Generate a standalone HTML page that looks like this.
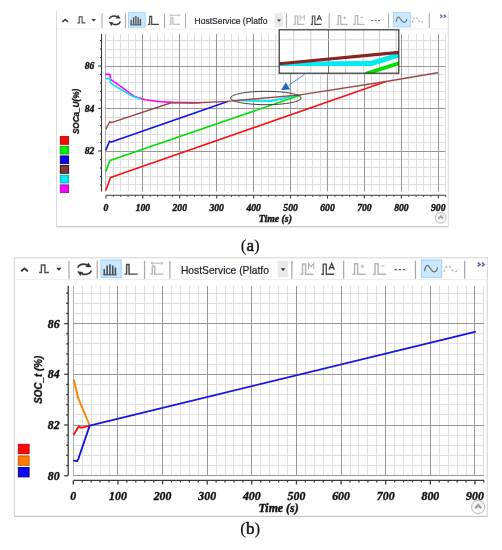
<!DOCTYPE html>
<html><head><meta charset="utf-8"><title>SOC charts</title>
<style>html,body{margin:0;padding:0;background:#fff;width:502px;height:550px;overflow:hidden}svg{display:block}</style>
</head><body>
<svg width="502" height="550" viewBox="0 0 502 550">
<rect width="502" height="550" fill="#ffffff"/>
<path d="M56.5,11 V226.6 H448.3 V11" fill="none" stroke="#dcdcdc" stroke-width="1"/>
<line x1="56.5" y1="226.8" x2="448.3" y2="226.8" stroke="#c4c4c4" stroke-width="1"/>
<line x1="57" y1="29" x2="448" y2="29" stroke="#f0f0f0" stroke-width="1"/>
<line x1="113.5" y1="34" x2="113.5" y2="191.5" stroke="#dfdfdf" stroke-width="1"/>
<line x1="120.5" y1="34" x2="120.5" y2="191.5" stroke="#dfdfdf" stroke-width="1"/>
<line x1="128.5" y1="34" x2="128.5" y2="191.5" stroke="#dfdfdf" stroke-width="1"/>
<line x1="135.5" y1="34" x2="135.5" y2="191.5" stroke="#dfdfdf" stroke-width="1"/>
<line x1="150.5" y1="34" x2="150.5" y2="191.5" stroke="#dfdfdf" stroke-width="1"/>
<line x1="157.5" y1="34" x2="157.5" y2="191.5" stroke="#dfdfdf" stroke-width="1"/>
<line x1="164.5" y1="34" x2="164.5" y2="191.5" stroke="#dfdfdf" stroke-width="1"/>
<line x1="172.5" y1="34" x2="172.5" y2="191.5" stroke="#dfdfdf" stroke-width="1"/>
<line x1="187.5" y1="34" x2="187.5" y2="191.5" stroke="#dfdfdf" stroke-width="1"/>
<line x1="194.5" y1="34" x2="194.5" y2="191.5" stroke="#dfdfdf" stroke-width="1"/>
<line x1="201.5" y1="34" x2="201.5" y2="191.5" stroke="#dfdfdf" stroke-width="1"/>
<line x1="209.5" y1="34" x2="209.5" y2="191.5" stroke="#dfdfdf" stroke-width="1"/>
<line x1="224.5" y1="34" x2="224.5" y2="191.5" stroke="#dfdfdf" stroke-width="1"/>
<line x1="231.5" y1="34" x2="231.5" y2="191.5" stroke="#dfdfdf" stroke-width="1"/>
<line x1="238.5" y1="34" x2="238.5" y2="191.5" stroke="#dfdfdf" stroke-width="1"/>
<line x1="246.5" y1="34" x2="246.5" y2="191.5" stroke="#dfdfdf" stroke-width="1"/>
<line x1="261.5" y1="34" x2="261.5" y2="191.5" stroke="#dfdfdf" stroke-width="1"/>
<line x1="268.5" y1="34" x2="268.5" y2="191.5" stroke="#dfdfdf" stroke-width="1"/>
<line x1="275.5" y1="34" x2="275.5" y2="191.5" stroke="#dfdfdf" stroke-width="1"/>
<line x1="283.5" y1="34" x2="283.5" y2="191.5" stroke="#dfdfdf" stroke-width="1"/>
<line x1="297.5" y1="34" x2="297.5" y2="191.5" stroke="#dfdfdf" stroke-width="1"/>
<line x1="305.5" y1="34" x2="305.5" y2="191.5" stroke="#dfdfdf" stroke-width="1"/>
<line x1="312.5" y1="34" x2="312.5" y2="191.5" stroke="#dfdfdf" stroke-width="1"/>
<line x1="320.5" y1="34" x2="320.5" y2="191.5" stroke="#dfdfdf" stroke-width="1"/>
<line x1="334.5" y1="34" x2="334.5" y2="191.5" stroke="#dfdfdf" stroke-width="1"/>
<line x1="342.5" y1="34" x2="342.5" y2="191.5" stroke="#dfdfdf" stroke-width="1"/>
<line x1="349.5" y1="34" x2="349.5" y2="191.5" stroke="#dfdfdf" stroke-width="1"/>
<line x1="357.5" y1="34" x2="357.5" y2="191.5" stroke="#dfdfdf" stroke-width="1"/>
<line x1="371.5" y1="34" x2="371.5" y2="191.5" stroke="#dfdfdf" stroke-width="1"/>
<line x1="379.5" y1="34" x2="379.5" y2="191.5" stroke="#dfdfdf" stroke-width="1"/>
<line x1="386.5" y1="34" x2="386.5" y2="191.5" stroke="#dfdfdf" stroke-width="1"/>
<line x1="393.5" y1="34" x2="393.5" y2="191.5" stroke="#dfdfdf" stroke-width="1"/>
<line x1="408.5" y1="34" x2="408.5" y2="191.5" stroke="#dfdfdf" stroke-width="1"/>
<line x1="416.5" y1="34" x2="416.5" y2="191.5" stroke="#dfdfdf" stroke-width="1"/>
<line x1="423.5" y1="34" x2="423.5" y2="191.5" stroke="#dfdfdf" stroke-width="1"/>
<line x1="430.5" y1="34" x2="430.5" y2="191.5" stroke="#dfdfdf" stroke-width="1"/>
<line x1="445.5" y1="34" x2="445.5" y2="191.5" stroke="#dfdfdf" stroke-width="1"/>
<line x1="105.9" y1="184.5" x2="445.6" y2="184.5" stroke="#dfdfdf" stroke-width="1"/>
<line x1="105.9" y1="176.5" x2="445.6" y2="176.5" stroke="#dfdfdf" stroke-width="1"/>
<line x1="105.9" y1="167.5" x2="445.6" y2="167.5" stroke="#dfdfdf" stroke-width="1"/>
<line x1="105.9" y1="159.5" x2="445.6" y2="159.5" stroke="#dfdfdf" stroke-width="1"/>
<line x1="105.9" y1="142.5" x2="445.6" y2="142.5" stroke="#dfdfdf" stroke-width="1"/>
<line x1="105.9" y1="134.5" x2="445.6" y2="134.5" stroke="#dfdfdf" stroke-width="1"/>
<line x1="105.9" y1="125.5" x2="445.6" y2="125.5" stroke="#dfdfdf" stroke-width="1"/>
<line x1="105.9" y1="117.5" x2="445.6" y2="117.5" stroke="#dfdfdf" stroke-width="1"/>
<line x1="105.9" y1="99.5" x2="445.6" y2="99.5" stroke="#dfdfdf" stroke-width="1"/>
<line x1="105.9" y1="91.5" x2="445.6" y2="91.5" stroke="#dfdfdf" stroke-width="1"/>
<line x1="105.9" y1="82.5" x2="445.6" y2="82.5" stroke="#dfdfdf" stroke-width="1"/>
<line x1="105.9" y1="74.5" x2="445.6" y2="74.5" stroke="#dfdfdf" stroke-width="1"/>
<line x1="105.9" y1="57.5" x2="445.6" y2="57.5" stroke="#dfdfdf" stroke-width="1"/>
<line x1="105.9" y1="49.5" x2="445.6" y2="49.5" stroke="#dfdfdf" stroke-width="1"/>
<line x1="105.9" y1="40.5" x2="445.6" y2="40.5" stroke="#dfdfdf" stroke-width="1"/>
<line x1="105.5" y1="34" x2="105.5" y2="191.5" stroke="#b4b4b4" stroke-width="1"/>
<line x1="142.5" y1="34" x2="142.5" y2="191.5" stroke="#979797" stroke-width="1"/>
<line x1="179.5" y1="34" x2="179.5" y2="191.5" stroke="#979797" stroke-width="1"/>
<line x1="216.5" y1="34" x2="216.5" y2="191.5" stroke="#979797" stroke-width="1"/>
<line x1="253.5" y1="34" x2="253.5" y2="191.5" stroke="#979797" stroke-width="1"/>
<line x1="290.5" y1="34" x2="290.5" y2="191.5" stroke="#979797" stroke-width="1"/>
<line x1="327.5" y1="34" x2="327.5" y2="191.5" stroke="#979797" stroke-width="1"/>
<line x1="364.5" y1="34" x2="364.5" y2="191.5" stroke="#979797" stroke-width="1"/>
<line x1="401.5" y1="34" x2="401.5" y2="191.5" stroke="#979797" stroke-width="1"/>
<line x1="438.5" y1="34" x2="438.5" y2="191.5" stroke="#979797" stroke-width="1"/>
<line x1="105.9" y1="151.5" x2="445.6" y2="151.5" stroke="#979797" stroke-width="1"/>
<line x1="105.9" y1="108.5" x2="445.6" y2="108.5" stroke="#979797" stroke-width="1"/>
<line x1="105.9" y1="66.5" x2="445.6" y2="66.5" stroke="#979797" stroke-width="1"/>
<line x1="101.5" y1="34" x2="101.5" y2="191.5" stroke="#3a3a3a" stroke-width="1.1"/>
<line x1="99.9" y1="185" x2="101.5" y2="185" stroke="#3a3a3a" stroke-width="1.1"/>
<line x1="99.9" y1="176.5" x2="101.5" y2="176.5" stroke="#3a3a3a" stroke-width="1.1"/>
<line x1="99.9" y1="168" x2="101.5" y2="168" stroke="#3a3a3a" stroke-width="1.1"/>
<line x1="99.9" y1="159.5" x2="101.5" y2="159.5" stroke="#3a3a3a" stroke-width="1.1"/>
<line x1="98.1" y1="151" x2="101.5" y2="151" stroke="#3a3a3a" stroke-width="1.1"/>
<line x1="99.9" y1="142.5" x2="101.5" y2="142.5" stroke="#3a3a3a" stroke-width="1.1"/>
<line x1="99.9" y1="134" x2="101.5" y2="134" stroke="#3a3a3a" stroke-width="1.1"/>
<line x1="99.9" y1="125.5" x2="101.5" y2="125.5" stroke="#3a3a3a" stroke-width="1.1"/>
<line x1="99.9" y1="117" x2="101.5" y2="117" stroke="#3a3a3a" stroke-width="1.1"/>
<line x1="98.1" y1="108.5" x2="101.5" y2="108.5" stroke="#3a3a3a" stroke-width="1.1"/>
<line x1="99.9" y1="100" x2="101.5" y2="100" stroke="#3a3a3a" stroke-width="1.1"/>
<line x1="99.9" y1="91.5" x2="101.5" y2="91.5" stroke="#3a3a3a" stroke-width="1.1"/>
<line x1="99.9" y1="83" x2="101.5" y2="83" stroke="#3a3a3a" stroke-width="1.1"/>
<line x1="99.9" y1="74.5" x2="101.5" y2="74.5" stroke="#3a3a3a" stroke-width="1.1"/>
<line x1="98.1" y1="66" x2="101.5" y2="66" stroke="#3a3a3a" stroke-width="1.1"/>
<line x1="99.9" y1="57.5" x2="101.5" y2="57.5" stroke="#3a3a3a" stroke-width="1.1"/>
<line x1="99.9" y1="49" x2="101.5" y2="49" stroke="#3a3a3a" stroke-width="1.1"/>
<line x1="99.9" y1="40.5" x2="101.5" y2="40.5" stroke="#3a3a3a" stroke-width="1.1"/>
<line x1="105.9" y1="195.2" x2="445.5" y2="195.2" stroke="#3a3a3a" stroke-width="1.1"/>
<line x1="105.9" y1="195.2" x2="105.9" y2="198.6" stroke="#3a3a3a" stroke-width="1.1"/>
<line x1="113.29" y1="195.2" x2="113.29" y2="196.8" stroke="#3a3a3a" stroke-width="1.1"/>
<line x1="120.67" y1="195.2" x2="120.67" y2="196.8" stroke="#3a3a3a" stroke-width="1.1"/>
<line x1="128.06" y1="195.2" x2="128.06" y2="196.8" stroke="#3a3a3a" stroke-width="1.1"/>
<line x1="135.44" y1="195.2" x2="135.44" y2="196.8" stroke="#3a3a3a" stroke-width="1.1"/>
<line x1="142.83" y1="195.2" x2="142.83" y2="198.6" stroke="#3a3a3a" stroke-width="1.1"/>
<line x1="150.22" y1="195.2" x2="150.22" y2="196.8" stroke="#3a3a3a" stroke-width="1.1"/>
<line x1="157.6" y1="195.2" x2="157.6" y2="196.8" stroke="#3a3a3a" stroke-width="1.1"/>
<line x1="164.99" y1="195.2" x2="164.99" y2="196.8" stroke="#3a3a3a" stroke-width="1.1"/>
<line x1="172.37" y1="195.2" x2="172.37" y2="196.8" stroke="#3a3a3a" stroke-width="1.1"/>
<line x1="179.76" y1="195.2" x2="179.76" y2="198.6" stroke="#3a3a3a" stroke-width="1.1"/>
<line x1="187.15" y1="195.2" x2="187.15" y2="196.8" stroke="#3a3a3a" stroke-width="1.1"/>
<line x1="194.53" y1="195.2" x2="194.53" y2="196.8" stroke="#3a3a3a" stroke-width="1.1"/>
<line x1="201.92" y1="195.2" x2="201.92" y2="196.8" stroke="#3a3a3a" stroke-width="1.1"/>
<line x1="209.3" y1="195.2" x2="209.3" y2="196.8" stroke="#3a3a3a" stroke-width="1.1"/>
<line x1="216.69" y1="195.2" x2="216.69" y2="198.6" stroke="#3a3a3a" stroke-width="1.1"/>
<line x1="224.08" y1="195.2" x2="224.08" y2="196.8" stroke="#3a3a3a" stroke-width="1.1"/>
<line x1="231.46" y1="195.2" x2="231.46" y2="196.8" stroke="#3a3a3a" stroke-width="1.1"/>
<line x1="238.85" y1="195.2" x2="238.85" y2="196.8" stroke="#3a3a3a" stroke-width="1.1"/>
<line x1="246.23" y1="195.2" x2="246.23" y2="196.8" stroke="#3a3a3a" stroke-width="1.1"/>
<line x1="253.62" y1="195.2" x2="253.62" y2="198.6" stroke="#3a3a3a" stroke-width="1.1"/>
<line x1="261.01" y1="195.2" x2="261.01" y2="196.8" stroke="#3a3a3a" stroke-width="1.1"/>
<line x1="268.39" y1="195.2" x2="268.39" y2="196.8" stroke="#3a3a3a" stroke-width="1.1"/>
<line x1="275.78" y1="195.2" x2="275.78" y2="196.8" stroke="#3a3a3a" stroke-width="1.1"/>
<line x1="283.16" y1="195.2" x2="283.16" y2="196.8" stroke="#3a3a3a" stroke-width="1.1"/>
<line x1="290.55" y1="195.2" x2="290.55" y2="198.6" stroke="#3a3a3a" stroke-width="1.1"/>
<line x1="297.94" y1="195.2" x2="297.94" y2="196.8" stroke="#3a3a3a" stroke-width="1.1"/>
<line x1="305.32" y1="195.2" x2="305.32" y2="196.8" stroke="#3a3a3a" stroke-width="1.1"/>
<line x1="312.71" y1="195.2" x2="312.71" y2="196.8" stroke="#3a3a3a" stroke-width="1.1"/>
<line x1="320.09" y1="195.2" x2="320.09" y2="196.8" stroke="#3a3a3a" stroke-width="1.1"/>
<line x1="327.48" y1="195.2" x2="327.48" y2="198.6" stroke="#3a3a3a" stroke-width="1.1"/>
<line x1="334.87" y1="195.2" x2="334.87" y2="196.8" stroke="#3a3a3a" stroke-width="1.1"/>
<line x1="342.25" y1="195.2" x2="342.25" y2="196.8" stroke="#3a3a3a" stroke-width="1.1"/>
<line x1="349.64" y1="195.2" x2="349.64" y2="196.8" stroke="#3a3a3a" stroke-width="1.1"/>
<line x1="357.02" y1="195.2" x2="357.02" y2="196.8" stroke="#3a3a3a" stroke-width="1.1"/>
<line x1="364.41" y1="195.2" x2="364.41" y2="198.6" stroke="#3a3a3a" stroke-width="1.1"/>
<line x1="371.8" y1="195.2" x2="371.8" y2="196.8" stroke="#3a3a3a" stroke-width="1.1"/>
<line x1="379.18" y1="195.2" x2="379.18" y2="196.8" stroke="#3a3a3a" stroke-width="1.1"/>
<line x1="386.57" y1="195.2" x2="386.57" y2="196.8" stroke="#3a3a3a" stroke-width="1.1"/>
<line x1="393.95" y1="195.2" x2="393.95" y2="196.8" stroke="#3a3a3a" stroke-width="1.1"/>
<line x1="401.34" y1="195.2" x2="401.34" y2="198.6" stroke="#3a3a3a" stroke-width="1.1"/>
<line x1="408.73" y1="195.2" x2="408.73" y2="196.8" stroke="#3a3a3a" stroke-width="1.1"/>
<line x1="416.11" y1="195.2" x2="416.11" y2="196.8" stroke="#3a3a3a" stroke-width="1.1"/>
<line x1="423.5" y1="195.2" x2="423.5" y2="196.8" stroke="#3a3a3a" stroke-width="1.1"/>
<line x1="430.88" y1="195.2" x2="430.88" y2="196.8" stroke="#3a3a3a" stroke-width="1.1"/>
<line x1="438.27" y1="195.2" x2="438.27" y2="198.6" stroke="#3a3a3a" stroke-width="1.1"/>
<line x1="445.66" y1="195.2" x2="445.66" y2="196.8" stroke="#3a3a3a" stroke-width="1.1"/>
<text x="105.9" y="211" text-anchor="middle" style="font-family:'Liberation Serif',serif;font-weight:bold;font-style:italic;stroke:#111;stroke-width:0.4px;font-size:9.6px" fill="#111">0</text>
<text x="142.83" y="211" text-anchor="middle" style="font-family:'Liberation Serif',serif;font-weight:bold;font-style:italic;stroke:#111;stroke-width:0.4px;font-size:9.6px" fill="#111">100</text>
<text x="179.76" y="211" text-anchor="middle" style="font-family:'Liberation Serif',serif;font-weight:bold;font-style:italic;stroke:#111;stroke-width:0.4px;font-size:9.6px" fill="#111">200</text>
<text x="216.69" y="211" text-anchor="middle" style="font-family:'Liberation Serif',serif;font-weight:bold;font-style:italic;stroke:#111;stroke-width:0.4px;font-size:9.6px" fill="#111">300</text>
<text x="253.62" y="211" text-anchor="middle" style="font-family:'Liberation Serif',serif;font-weight:bold;font-style:italic;stroke:#111;stroke-width:0.4px;font-size:9.6px" fill="#111">400</text>
<text x="290.55" y="211" text-anchor="middle" style="font-family:'Liberation Serif',serif;font-weight:bold;font-style:italic;stroke:#111;stroke-width:0.4px;font-size:9.6px" fill="#111">500</text>
<text x="327.48" y="211" text-anchor="middle" style="font-family:'Liberation Serif',serif;font-weight:bold;font-style:italic;stroke:#111;stroke-width:0.4px;font-size:9.6px" fill="#111">600</text>
<text x="364.41" y="211" text-anchor="middle" style="font-family:'Liberation Serif',serif;font-weight:bold;font-style:italic;stroke:#111;stroke-width:0.4px;font-size:9.6px" fill="#111">700</text>
<text x="401.34" y="211" text-anchor="middle" style="font-family:'Liberation Serif',serif;font-weight:bold;font-style:italic;stroke:#111;stroke-width:0.4px;font-size:9.6px" fill="#111">800</text>
<text x="438.27" y="211" text-anchor="middle" style="font-family:'Liberation Serif',serif;font-weight:bold;font-style:italic;stroke:#111;stroke-width:0.4px;font-size:9.6px" fill="#111">900</text>
<text x="94.4" y="154.3" text-anchor="end" style="font-family:'Liberation Serif',serif;font-weight:bold;font-style:italic;stroke:#111;stroke-width:0.4px;font-size:9.6px" fill="#111">82</text>
<text x="94.4" y="111.8" text-anchor="end" style="font-family:'Liberation Serif',serif;font-weight:bold;font-style:italic;stroke:#111;stroke-width:0.4px;font-size:9.6px" fill="#111">84</text>
<text x="94.4" y="69.3" text-anchor="end" style="font-family:'Liberation Serif',serif;font-weight:bold;font-style:italic;stroke:#111;stroke-width:0.4px;font-size:9.6px" fill="#111">86</text>
<text x="275.4" y="222" text-anchor="middle" style="font-family:'Liberation Serif',serif;font-weight:bold;font-style:italic;stroke:#111;stroke-width:0.4px;font-size:9.8px" fill="#111">Time (s)</text>
<text transform="translate(79.4,111.5) rotate(-90)" x="0" y="0" text-anchor="middle" style="font-family:'Liberation Sans',sans-serif;font-weight:bold;font-style:italic;font-size:8.6px;stroke:#111;stroke-width:0.3px" fill="#111" textLength="45.2" lengthAdjust="spacingAndGlyphs">SOCa_U(%)</text>
<polyline points="106,74.4 110,74.4 110.6,79.3 120,85.9 134.5,96.6 145,99.7 158,101.5 172,102.4 200,102.8" fill="none" stroke="#ff00ff" stroke-width="1.6" stroke-linejoin="round" stroke-linecap="round"/>
<polyline points="106,78.5 110,78.5 110.6,82.9 120,89 133,96.6 140,98.8" fill="none" stroke="#00e8f0" stroke-width="1.6" stroke-linejoin="round" stroke-linecap="round"/>
<polyline points="238.5,100.4 250,100.8 271.2,101 295.1,95.6 300,94.9" fill="none" stroke="#00e8f0" stroke-width="1.9" stroke-linejoin="round" stroke-linecap="round"/>
<polyline points="106,189.9 110.5,177.6 386,81.6" fill="none" stroke="#ff1010" stroke-width="1.6" stroke-linejoin="round" stroke-linecap="round"/>
<polyline points="106,171 109.9,160.6 300,95.2" fill="none" stroke="#00e000" stroke-width="1.6" stroke-linejoin="round" stroke-linecap="round"/>
<polyline points="106,149.9 109.5,141.2 111.3,141.9 227.6,101.4" fill="none" stroke="#1010f0" stroke-width="1.6" stroke-linejoin="round" stroke-linecap="round"/>
<polyline points="106,128.8 109.9,121.5 111.3,122.6 171.9,102.5 192,103 227.6,101.4 300,94.9 386,81.5 437.5,72.7" fill="none" stroke="#9a4848" stroke-width="1.45" stroke-linejoin="round" stroke-linecap="round"/>
<rect x="60.3" y="136.6" width="8.3" height="7.7" fill="#ff0505" stroke="#c00000" stroke-width="0.9"/>
<rect x="60.3" y="146.26" width="8.3" height="7.7" fill="#05ee05" stroke="#00a800" stroke-width="0.9"/>
<rect x="60.3" y="155.92" width="8.3" height="7.7" fill="#0808f0" stroke="#000090" stroke-width="0.9"/>
<rect x="60.3" y="165.58" width="8.3" height="7.7" fill="#7a3b3b" stroke="#2a0a0a" stroke-width="0.9"/>
<rect x="60.3" y="175.24" width="8.3" height="7.7" fill="#08e8f0" stroke="#00a8b8" stroke-width="0.9"/>
<rect x="60.3" y="184.9" width="8.3" height="7.7" fill="#f808f8" stroke="#b000b0" stroke-width="0.9"/>
<circle cx="440.8" cy="217.8" r="5.3" fill="#fafafa" stroke="#b8b8b8" stroke-width="1"/>
<path d="M438.42,218.75 L440.8,216.21 L443.19,218.75" fill="none" stroke="#a0a0a0" stroke-width="1.91"/>
<defs><clipPath id="ins"><rect x="279.2" y="29.8" width="119.6" height="43.4"/></clipPath></defs>
<rect x="279.2" y="29.8" width="119.6" height="43.4" fill="#ffffff"/>
<g clip-path="url(#ins)">
<line x1="293.7" y1="30" x2="293.7" y2="73.2" stroke="#cfcfcf" stroke-width="1"/>
<line x1="310.9" y1="30" x2="310.9" y2="73.2" stroke="#cfcfcf" stroke-width="1"/>
<line x1="345.5" y1="30" x2="345.5" y2="73.2" stroke="#cfcfcf" stroke-width="1"/>
<line x1="363.7" y1="30" x2="363.7" y2="73.2" stroke="#cfcfcf" stroke-width="1"/>
<line x1="379.5" y1="30" x2="379.5" y2="73.2" stroke="#cfcfcf" stroke-width="1"/>
<line x1="396.2" y1="30" x2="396.2" y2="73.2" stroke="#cfcfcf" stroke-width="1"/>
<line x1="328.5" y1="30" x2="328.5" y2="73.2" stroke="#7a7a7a" stroke-width="1"/>
<line x1="279.5" y1="39.8" x2="399" y2="39.8" stroke="#d4d4d4" stroke-width="1"/>
<polygon points="279.5,63.2 330,61.2 370.2,61 399,52.6 399,57.4 372,65.9 279.5,65.9" fill="#00eaf2"/>
<line x1="365.6" y1="73.8" x2="399" y2="63.2" stroke="#00e000" stroke-width="3.8"/>
<line x1="279.5" y1="63.8" x2="399" y2="52.4" stroke="#8b2222" stroke-width="3.1"/>
</g>
<rect x="279.2" y="29.8" width="119.6" height="43.4" fill="none" stroke="#222" stroke-width="1.1"/>
<ellipse cx="265.9" cy="98" rx="35.3" ry="6.7" fill="none" stroke="#444" stroke-width="1"/>
<line x1="305.7" y1="73.4" x2="288.5" y2="85.6" stroke="#4a8ad8" stroke-width="1"/>
<path d="M281,90 L290.2,89.6 L285.8,82.6 Z" fill="#1f66c8"/>
<path d="M62.4,21.9 L65.2,19.5 L68,21.9" fill="none" stroke="#333333" stroke-width="1.5"/>
<path d="M77.3,22.9 H79.2 V16.8 H82.1 V22.9 H85.4" fill="none" stroke="#505050" stroke-width="1.15"/>
<path d="M91.4,19.1 H95.9 L93.65,21.6 Z" fill="#333333"/>
<line x1="102" y1="13.2" x2="102" y2="28.2" stroke="#a6a6a6" stroke-width="1"/>
<line x1="125.4" y1="13.2" x2="125.4" y2="28.2" stroke="#a6a6a6" stroke-width="1"/>
<line x1="164.5" y1="13.2" x2="164.5" y2="28.2" stroke="#a6a6a6" stroke-width="1"/>
<line x1="185.5" y1="13.2" x2="185.5" y2="28.2" stroke="#a6a6a6" stroke-width="1"/>
<line x1="286.4" y1="13.2" x2="286.4" y2="28.2" stroke="#a6a6a6" stroke-width="1"/>
<line x1="329.2" y1="13.2" x2="329.2" y2="28.2" stroke="#a6a6a6" stroke-width="1"/>
<line x1="388.6" y1="13.2" x2="388.6" y2="28.2" stroke="#a6a6a6" stroke-width="1"/>
<line x1="429.3" y1="13.2" x2="429.3" y2="28.2" stroke="#a6a6a6" stroke-width="1"/>
<path d="M109.3,18.9 C110,16.2 114,15.2 116.9,16.6" fill="none" stroke="#333333" stroke-width="1.4"/>
<path d="M118,14.7 L115.7,18.5 L120.6,18.6 Z" fill="#333333"/>
<path d="M120.4,21.4 C119.8,24.2 115.6,25.2 112.8,24.1" fill="none" stroke="#333333" stroke-width="1.4"/>
<path d="M111.4,25.9 L108.9,21.9 L113.7,22.6 Z" fill="#333333"/>
<rect x="128.4" y="12.6" width="16.8" height="14.6" fill="#cce8ff" stroke="#99d1ff" stroke-width="0.8"/>
<line x1="131.2" y1="20.1" x2="131.2" y2="24.8" stroke="#4a4a4a" stroke-width="1.3"/>
<line x1="133.6" y1="17.2" x2="133.6" y2="24.8" stroke="#4a4a4a" stroke-width="1.3"/>
<line x1="135.9" y1="16.1" x2="135.9" y2="24.8" stroke="#4a4a4a" stroke-width="1.3"/>
<line x1="138.2" y1="17.2" x2="138.2" y2="24.8" stroke="#4a4a4a" stroke-width="1.3"/>
<line x1="140.4" y1="18.9" x2="140.4" y2="24.8" stroke="#4a4a4a" stroke-width="1.3"/>
<line x1="130.4" y1="24.9" x2="141.4" y2="24.9" stroke="#404040" stroke-width="0.9"/>
<path d="M147.9,24.3 H149.7 V16.3 H151.7 V24.3 H158.9" fill="none" stroke="#454545" stroke-width="1.2"/>
<path d="M169.4,24.3 H170.9 V17.8 H172.9 V24.3 H180" fill="none" stroke="#b4b4b4" stroke-width="1.1"/>
<path d="M170,15.3 H179.6 M171.4,14.2 L169.9,15.3 L171.4,16.4 M178.2,14.2 L179.7,15.3 L178.2,16.4" fill="none" stroke="#b4b4b4" stroke-width="0.8"/>
<text x="194.6" y="24.2" style="font-family:'Liberation Sans',sans-serif;font-size:9.5px;stroke:#1a1a2a;stroke-width:0.18px" fill="#1a1a2a" textLength="72.8" lengthAdjust="spacingAndGlyphs">HostService (Platfo</text>
<rect x="274.6" y="13.2" width="8.7" height="13.6" fill="#e9e9e9"/>
<path d="M277.1,19.5 H281 L279.05,21.7 Z" fill="#333333"/>
<path d="M293.4,24.4 H295.2 V16 H297.7 V24.4 H304.3" fill="none" stroke="#b4b4b4" stroke-width="1.2"/>
<path d="M300.2,20.3 V15.4 L302.3,18.3 L304.4,15.4 V20.3" fill="none" stroke="#b4b4b4" stroke-width="0.9"/>
<path d="M310.8,24.4 H312.3 V16 H314.8 V24.4 H321.3" fill="none" stroke="#484848" stroke-width="1.1"/>
<path d="M317.1,20.6 L319.3,15.3 L321.5,20.6 M318,18.9 H320.6" fill="none" stroke="#333333" stroke-width="1"/>
<path d="M336.4,24.4 H338.3 V15.7 H340.8 V24.4 H347.5" fill="none" stroke="#b4b4b4" stroke-width="1.2"/>
<path d="M343.2,17.8 H346 M344.6,16.4 V19.2" stroke="#b4b4b4" stroke-width="0.9"/>
<path d="M353.3,24.4 H355.2 V15.7 H357.7 V24.4 H364.4" fill="none" stroke="#b4b4b4" stroke-width="1.2"/>
<path d="M360.6,17.5 H363" stroke="#b4b4b4" stroke-width="0.9"/>
<path d="M371.2,20.6 H373.3 M374.6,20.6 H376.7 M378,20.6 H380.1" stroke="#5c6074" stroke-width="1.0"/>
<rect x="393.5" y="12.6" width="16.8" height="14.4" fill="#cce8ff" stroke="#99d1ff" stroke-width="0.8"/>
<path d="M396,21.8 C397,17 398.2,16.6 399.2,17.4 C400.6,18.6 402,22.6 404.2,22.5 C405.6,22.4 406.5,20.5 406.9,18.8" fill="none" stroke="#687078" stroke-width="1.05"/>
<path d="M412.1,22.5 C413.2,18 415,17.2 416.2,17.6 C417.8,18.4 419.4,22.6 421,22.5 C422.4,22.4 423.3,21 423.9,19.6" fill="none" stroke="#b4b4b4" stroke-width="1.1" stroke-dasharray="2,1.6"/>
<path d="M440.1,14.8 L442.1,16.35 L440.1,17.9 M443.5,14.8 L445.5,16.35 L443.5,17.9" fill="none" stroke="#5a5ab4" stroke-width="1.2"/>
<text x="250.2" y="251" text-anchor="middle" style="font-family:'Liberation Serif',serif;font-size:17px;stroke:#111;stroke-width:0.15px" fill="#111">(<tspan style="stroke-width:0.55px">a</tspan>)</text>
<rect x="14.3" y="257.8" width="473" height="258.6" fill="none" stroke="#d4d4d4" stroke-width="1"/>
<line x1="14.3" y1="516.4" x2="487.3" y2="516.4" stroke="#c4c4c4" stroke-width="1"/>
<line x1="14.8" y1="279.5" x2="487" y2="279.5" stroke="#eceef2" stroke-width="1"/>
<line x1="82.5" y1="285.8" x2="82.5" y2="475.5" stroke="#dfdfdf" stroke-width="1"/>
<line x1="91.5" y1="285.8" x2="91.5" y2="475.5" stroke="#dfdfdf" stroke-width="1"/>
<line x1="100.5" y1="285.8" x2="100.5" y2="475.5" stroke="#dfdfdf" stroke-width="1"/>
<line x1="109.5" y1="285.8" x2="109.5" y2="475.5" stroke="#dfdfdf" stroke-width="1"/>
<line x1="126.5" y1="285.8" x2="126.5" y2="475.5" stroke="#dfdfdf" stroke-width="1"/>
<line x1="135.5" y1="285.8" x2="135.5" y2="475.5" stroke="#dfdfdf" stroke-width="1"/>
<line x1="144.5" y1="285.8" x2="144.5" y2="475.5" stroke="#dfdfdf" stroke-width="1"/>
<line x1="153.5" y1="285.8" x2="153.5" y2="475.5" stroke="#dfdfdf" stroke-width="1"/>
<line x1="171.5" y1="285.8" x2="171.5" y2="475.5" stroke="#dfdfdf" stroke-width="1"/>
<line x1="180.5" y1="285.8" x2="180.5" y2="475.5" stroke="#dfdfdf" stroke-width="1"/>
<line x1="189.5" y1="285.8" x2="189.5" y2="475.5" stroke="#dfdfdf" stroke-width="1"/>
<line x1="198.5" y1="285.8" x2="198.5" y2="475.5" stroke="#dfdfdf" stroke-width="1"/>
<line x1="216.5" y1="285.8" x2="216.5" y2="475.5" stroke="#dfdfdf" stroke-width="1"/>
<line x1="225.5" y1="285.8" x2="225.5" y2="475.5" stroke="#dfdfdf" stroke-width="1"/>
<line x1="233.5" y1="285.8" x2="233.5" y2="475.5" stroke="#dfdfdf" stroke-width="1"/>
<line x1="242.5" y1="285.8" x2="242.5" y2="475.5" stroke="#dfdfdf" stroke-width="1"/>
<line x1="260.5" y1="285.8" x2="260.5" y2="475.5" stroke="#dfdfdf" stroke-width="1"/>
<line x1="269.5" y1="285.8" x2="269.5" y2="475.5" stroke="#dfdfdf" stroke-width="1"/>
<line x1="278.5" y1="285.8" x2="278.5" y2="475.5" stroke="#dfdfdf" stroke-width="1"/>
<line x1="287.5" y1="285.8" x2="287.5" y2="475.5" stroke="#dfdfdf" stroke-width="1"/>
<line x1="305.5" y1="285.8" x2="305.5" y2="475.5" stroke="#dfdfdf" stroke-width="1"/>
<line x1="314.5" y1="285.8" x2="314.5" y2="475.5" stroke="#dfdfdf" stroke-width="1"/>
<line x1="323.5" y1="285.8" x2="323.5" y2="475.5" stroke="#dfdfdf" stroke-width="1"/>
<line x1="332.5" y1="285.8" x2="332.5" y2="475.5" stroke="#dfdfdf" stroke-width="1"/>
<line x1="350.5" y1="285.8" x2="350.5" y2="475.5" stroke="#dfdfdf" stroke-width="1"/>
<line x1="358.5" y1="285.8" x2="358.5" y2="475.5" stroke="#dfdfdf" stroke-width="1"/>
<line x1="367.5" y1="285.8" x2="367.5" y2="475.5" stroke="#dfdfdf" stroke-width="1"/>
<line x1="376.5" y1="285.8" x2="376.5" y2="475.5" stroke="#dfdfdf" stroke-width="1"/>
<line x1="394.5" y1="285.8" x2="394.5" y2="475.5" stroke="#dfdfdf" stroke-width="1"/>
<line x1="403.5" y1="285.8" x2="403.5" y2="475.5" stroke="#dfdfdf" stroke-width="1"/>
<line x1="412.5" y1="285.8" x2="412.5" y2="475.5" stroke="#dfdfdf" stroke-width="1"/>
<line x1="421.5" y1="285.8" x2="421.5" y2="475.5" stroke="#dfdfdf" stroke-width="1"/>
<line x1="439.5" y1="285.8" x2="439.5" y2="475.5" stroke="#dfdfdf" stroke-width="1"/>
<line x1="448.5" y1="285.8" x2="448.5" y2="475.5" stroke="#dfdfdf" stroke-width="1"/>
<line x1="457.5" y1="285.8" x2="457.5" y2="475.5" stroke="#dfdfdf" stroke-width="1"/>
<line x1="466.5" y1="285.8" x2="466.5" y2="475.5" stroke="#dfdfdf" stroke-width="1"/>
<line x1="483.5" y1="285.8" x2="483.5" y2="475.5" stroke="#dfdfdf" stroke-width="1"/>
<line x1="73.3" y1="465.5" x2="484" y2="465.5" stroke="#dfdfdf" stroke-width="1"/>
<line x1="73.3" y1="455.5" x2="484" y2="455.5" stroke="#dfdfdf" stroke-width="1"/>
<line x1="73.3" y1="445.5" x2="484" y2="445.5" stroke="#dfdfdf" stroke-width="1"/>
<line x1="73.3" y1="435.5" x2="484" y2="435.5" stroke="#dfdfdf" stroke-width="1"/>
<line x1="73.3" y1="414.5" x2="484" y2="414.5" stroke="#dfdfdf" stroke-width="1"/>
<line x1="73.3" y1="404.5" x2="484" y2="404.5" stroke="#dfdfdf" stroke-width="1"/>
<line x1="73.3" y1="394.5" x2="484" y2="394.5" stroke="#dfdfdf" stroke-width="1"/>
<line x1="73.3" y1="384.5" x2="484" y2="384.5" stroke="#dfdfdf" stroke-width="1"/>
<line x1="73.3" y1="364.5" x2="484" y2="364.5" stroke="#dfdfdf" stroke-width="1"/>
<line x1="73.3" y1="354.5" x2="484" y2="354.5" stroke="#dfdfdf" stroke-width="1"/>
<line x1="73.3" y1="343.5" x2="484" y2="343.5" stroke="#dfdfdf" stroke-width="1"/>
<line x1="73.3" y1="333.5" x2="484" y2="333.5" stroke="#dfdfdf" stroke-width="1"/>
<line x1="73.3" y1="313.5" x2="484" y2="313.5" stroke="#dfdfdf" stroke-width="1"/>
<line x1="73.3" y1="303.5" x2="484" y2="303.5" stroke="#dfdfdf" stroke-width="1"/>
<line x1="73.3" y1="293.5" x2="484" y2="293.5" stroke="#dfdfdf" stroke-width="1"/>
<line x1="73.5" y1="285.8" x2="73.5" y2="475.5" stroke="#b4b4b4" stroke-width="1"/>
<line x1="117.5" y1="285.8" x2="117.5" y2="475.5" stroke="#979797" stroke-width="1"/>
<line x1="162.5" y1="285.8" x2="162.5" y2="475.5" stroke="#979797" stroke-width="1"/>
<line x1="207.5" y1="285.8" x2="207.5" y2="475.5" stroke="#979797" stroke-width="1"/>
<line x1="251.5" y1="285.8" x2="251.5" y2="475.5" stroke="#979797" stroke-width="1"/>
<line x1="296.5" y1="285.8" x2="296.5" y2="475.5" stroke="#979797" stroke-width="1"/>
<line x1="341.5" y1="285.8" x2="341.5" y2="475.5" stroke="#979797" stroke-width="1"/>
<line x1="385.5" y1="285.8" x2="385.5" y2="475.5" stroke="#979797" stroke-width="1"/>
<line x1="430.5" y1="285.8" x2="430.5" y2="475.5" stroke="#979797" stroke-width="1"/>
<line x1="474.5" y1="285.8" x2="474.5" y2="475.5" stroke="#979797" stroke-width="1"/>
<line x1="73.3" y1="475.5" x2="484" y2="475.5" stroke="#979797" stroke-width="1"/>
<line x1="73.3" y1="425.5" x2="484" y2="425.5" stroke="#979797" stroke-width="1"/>
<line x1="73.3" y1="374.5" x2="484" y2="374.5" stroke="#979797" stroke-width="1"/>
<line x1="73.3" y1="323.5" x2="484" y2="323.5" stroke="#979797" stroke-width="1"/>
<line x1="68.2" y1="285.8" x2="68.2" y2="475.5" stroke="#3a3a3a" stroke-width="1.3"/>
<line x1="64.2" y1="475.7" x2="68.2" y2="475.7" stroke="#3a3a3a" stroke-width="1.3"/>
<line x1="66.2" y1="465.56" x2="68.2" y2="465.56" stroke="#3a3a3a" stroke-width="1.3"/>
<line x1="66.2" y1="455.42" x2="68.2" y2="455.42" stroke="#3a3a3a" stroke-width="1.3"/>
<line x1="66.2" y1="445.28" x2="68.2" y2="445.28" stroke="#3a3a3a" stroke-width="1.3"/>
<line x1="66.2" y1="435.14" x2="68.2" y2="435.14" stroke="#3a3a3a" stroke-width="1.3"/>
<line x1="64.2" y1="425" x2="68.2" y2="425" stroke="#3a3a3a" stroke-width="1.3"/>
<line x1="66.2" y1="414.86" x2="68.2" y2="414.86" stroke="#3a3a3a" stroke-width="1.3"/>
<line x1="66.2" y1="404.72" x2="68.2" y2="404.72" stroke="#3a3a3a" stroke-width="1.3"/>
<line x1="66.2" y1="394.58" x2="68.2" y2="394.58" stroke="#3a3a3a" stroke-width="1.3"/>
<line x1="66.2" y1="384.44" x2="68.2" y2="384.44" stroke="#3a3a3a" stroke-width="1.3"/>
<line x1="64.2" y1="374.3" x2="68.2" y2="374.3" stroke="#3a3a3a" stroke-width="1.3"/>
<line x1="66.2" y1="364.16" x2="68.2" y2="364.16" stroke="#3a3a3a" stroke-width="1.3"/>
<line x1="66.2" y1="354.02" x2="68.2" y2="354.02" stroke="#3a3a3a" stroke-width="1.3"/>
<line x1="66.2" y1="343.88" x2="68.2" y2="343.88" stroke="#3a3a3a" stroke-width="1.3"/>
<line x1="66.2" y1="333.74" x2="68.2" y2="333.74" stroke="#3a3a3a" stroke-width="1.3"/>
<line x1="64.2" y1="323.6" x2="68.2" y2="323.6" stroke="#3a3a3a" stroke-width="1.3"/>
<line x1="66.2" y1="313.46" x2="68.2" y2="313.46" stroke="#3a3a3a" stroke-width="1.3"/>
<line x1="66.2" y1="303.32" x2="68.2" y2="303.32" stroke="#3a3a3a" stroke-width="1.3"/>
<line x1="66.2" y1="293.18" x2="68.2" y2="293.18" stroke="#3a3a3a" stroke-width="1.3"/>
<line x1="73.3" y1="480.4" x2="484" y2="480.4" stroke="#3a3a3a" stroke-width="1.3"/>
<line x1="73.3" y1="480.4" x2="73.3" y2="484.4" stroke="#3a3a3a" stroke-width="1.3"/>
<line x1="82.23" y1="480.4" x2="82.23" y2="482.4" stroke="#3a3a3a" stroke-width="1.3"/>
<line x1="91.15" y1="480.4" x2="91.15" y2="482.4" stroke="#3a3a3a" stroke-width="1.3"/>
<line x1="100.08" y1="480.4" x2="100.08" y2="482.4" stroke="#3a3a3a" stroke-width="1.3"/>
<line x1="109" y1="480.4" x2="109" y2="482.4" stroke="#3a3a3a" stroke-width="1.3"/>
<line x1="117.93" y1="480.4" x2="117.93" y2="484.4" stroke="#3a3a3a" stroke-width="1.3"/>
<line x1="126.86" y1="480.4" x2="126.86" y2="482.4" stroke="#3a3a3a" stroke-width="1.3"/>
<line x1="135.78" y1="480.4" x2="135.78" y2="482.4" stroke="#3a3a3a" stroke-width="1.3"/>
<line x1="144.71" y1="480.4" x2="144.71" y2="482.4" stroke="#3a3a3a" stroke-width="1.3"/>
<line x1="153.63" y1="480.4" x2="153.63" y2="482.4" stroke="#3a3a3a" stroke-width="1.3"/>
<line x1="162.56" y1="480.4" x2="162.56" y2="484.4" stroke="#3a3a3a" stroke-width="1.3"/>
<line x1="171.49" y1="480.4" x2="171.49" y2="482.4" stroke="#3a3a3a" stroke-width="1.3"/>
<line x1="180.41" y1="480.4" x2="180.41" y2="482.4" stroke="#3a3a3a" stroke-width="1.3"/>
<line x1="189.34" y1="480.4" x2="189.34" y2="482.4" stroke="#3a3a3a" stroke-width="1.3"/>
<line x1="198.26" y1="480.4" x2="198.26" y2="482.4" stroke="#3a3a3a" stroke-width="1.3"/>
<line x1="207.19" y1="480.4" x2="207.19" y2="484.4" stroke="#3a3a3a" stroke-width="1.3"/>
<line x1="216.12" y1="480.4" x2="216.12" y2="482.4" stroke="#3a3a3a" stroke-width="1.3"/>
<line x1="225.04" y1="480.4" x2="225.04" y2="482.4" stroke="#3a3a3a" stroke-width="1.3"/>
<line x1="233.97" y1="480.4" x2="233.97" y2="482.4" stroke="#3a3a3a" stroke-width="1.3"/>
<line x1="242.89" y1="480.4" x2="242.89" y2="482.4" stroke="#3a3a3a" stroke-width="1.3"/>
<line x1="251.82" y1="480.4" x2="251.82" y2="484.4" stroke="#3a3a3a" stroke-width="1.3"/>
<line x1="260.75" y1="480.4" x2="260.75" y2="482.4" stroke="#3a3a3a" stroke-width="1.3"/>
<line x1="269.67" y1="480.4" x2="269.67" y2="482.4" stroke="#3a3a3a" stroke-width="1.3"/>
<line x1="278.6" y1="480.4" x2="278.6" y2="482.4" stroke="#3a3a3a" stroke-width="1.3"/>
<line x1="287.52" y1="480.4" x2="287.52" y2="482.4" stroke="#3a3a3a" stroke-width="1.3"/>
<line x1="296.45" y1="480.4" x2="296.45" y2="484.4" stroke="#3a3a3a" stroke-width="1.3"/>
<line x1="305.38" y1="480.4" x2="305.38" y2="482.4" stroke="#3a3a3a" stroke-width="1.3"/>
<line x1="314.3" y1="480.4" x2="314.3" y2="482.4" stroke="#3a3a3a" stroke-width="1.3"/>
<line x1="323.23" y1="480.4" x2="323.23" y2="482.4" stroke="#3a3a3a" stroke-width="1.3"/>
<line x1="332.15" y1="480.4" x2="332.15" y2="482.4" stroke="#3a3a3a" stroke-width="1.3"/>
<line x1="341.08" y1="480.4" x2="341.08" y2="484.4" stroke="#3a3a3a" stroke-width="1.3"/>
<line x1="350.01" y1="480.4" x2="350.01" y2="482.4" stroke="#3a3a3a" stroke-width="1.3"/>
<line x1="358.93" y1="480.4" x2="358.93" y2="482.4" stroke="#3a3a3a" stroke-width="1.3"/>
<line x1="367.86" y1="480.4" x2="367.86" y2="482.4" stroke="#3a3a3a" stroke-width="1.3"/>
<line x1="376.78" y1="480.4" x2="376.78" y2="482.4" stroke="#3a3a3a" stroke-width="1.3"/>
<line x1="385.71" y1="480.4" x2="385.71" y2="484.4" stroke="#3a3a3a" stroke-width="1.3"/>
<line x1="394.64" y1="480.4" x2="394.64" y2="482.4" stroke="#3a3a3a" stroke-width="1.3"/>
<line x1="403.56" y1="480.4" x2="403.56" y2="482.4" stroke="#3a3a3a" stroke-width="1.3"/>
<line x1="412.49" y1="480.4" x2="412.49" y2="482.4" stroke="#3a3a3a" stroke-width="1.3"/>
<line x1="421.41" y1="480.4" x2="421.41" y2="482.4" stroke="#3a3a3a" stroke-width="1.3"/>
<line x1="430.34" y1="480.4" x2="430.34" y2="484.4" stroke="#3a3a3a" stroke-width="1.3"/>
<line x1="439.27" y1="480.4" x2="439.27" y2="482.4" stroke="#3a3a3a" stroke-width="1.3"/>
<line x1="448.19" y1="480.4" x2="448.19" y2="482.4" stroke="#3a3a3a" stroke-width="1.3"/>
<line x1="457.12" y1="480.4" x2="457.12" y2="482.4" stroke="#3a3a3a" stroke-width="1.3"/>
<line x1="466.04" y1="480.4" x2="466.04" y2="482.4" stroke="#3a3a3a" stroke-width="1.3"/>
<line x1="474.97" y1="480.4" x2="474.97" y2="484.4" stroke="#3a3a3a" stroke-width="1.3"/>
<line x1="483.9" y1="480.4" x2="483.9" y2="482.4" stroke="#3a3a3a" stroke-width="1.3"/>
<text x="73.3" y="499.6" text-anchor="middle" style="font-family:'Liberation Serif',serif;font-weight:bold;font-style:italic;stroke:#111;stroke-width:0.4px;font-size:11.8px" fill="#111">0</text>
<text x="117.93" y="499.6" text-anchor="middle" style="font-family:'Liberation Serif',serif;font-weight:bold;font-style:italic;stroke:#111;stroke-width:0.4px;font-size:11.8px" fill="#111">100</text>
<text x="162.56" y="499.6" text-anchor="middle" style="font-family:'Liberation Serif',serif;font-weight:bold;font-style:italic;stroke:#111;stroke-width:0.4px;font-size:11.8px" fill="#111">200</text>
<text x="207.19" y="499.6" text-anchor="middle" style="font-family:'Liberation Serif',serif;font-weight:bold;font-style:italic;stroke:#111;stroke-width:0.4px;font-size:11.8px" fill="#111">300</text>
<text x="251.82" y="499.6" text-anchor="middle" style="font-family:'Liberation Serif',serif;font-weight:bold;font-style:italic;stroke:#111;stroke-width:0.4px;font-size:11.8px" fill="#111">400</text>
<text x="296.45" y="499.6" text-anchor="middle" style="font-family:'Liberation Serif',serif;font-weight:bold;font-style:italic;stroke:#111;stroke-width:0.4px;font-size:11.8px" fill="#111">500</text>
<text x="341.08" y="499.6" text-anchor="middle" style="font-family:'Liberation Serif',serif;font-weight:bold;font-style:italic;stroke:#111;stroke-width:0.4px;font-size:11.8px" fill="#111">600</text>
<text x="385.71" y="499.6" text-anchor="middle" style="font-family:'Liberation Serif',serif;font-weight:bold;font-style:italic;stroke:#111;stroke-width:0.4px;font-size:11.8px" fill="#111">700</text>
<text x="430.34" y="499.6" text-anchor="middle" style="font-family:'Liberation Serif',serif;font-weight:bold;font-style:italic;stroke:#111;stroke-width:0.4px;font-size:11.8px" fill="#111">800</text>
<text x="474.97" y="499.6" text-anchor="middle" style="font-family:'Liberation Serif',serif;font-weight:bold;font-style:italic;stroke:#111;stroke-width:0.4px;font-size:11.8px" fill="#111">900</text>
<text x="59.6" y="479.7" text-anchor="end" style="font-family:'Liberation Serif',serif;font-weight:bold;font-style:italic;stroke:#111;stroke-width:0.4px;font-size:11.8px" fill="#111">80</text>
<text x="59.6" y="429" text-anchor="end" style="font-family:'Liberation Serif',serif;font-weight:bold;font-style:italic;stroke:#111;stroke-width:0.4px;font-size:11.8px" fill="#111">82</text>
<text x="59.6" y="378.3" text-anchor="end" style="font-family:'Liberation Serif',serif;font-weight:bold;font-style:italic;stroke:#111;stroke-width:0.4px;font-size:11.8px" fill="#111">84</text>
<text x="59.6" y="327.6" text-anchor="end" style="font-family:'Liberation Serif',serif;font-weight:bold;font-style:italic;stroke:#111;stroke-width:0.4px;font-size:11.8px" fill="#111">86</text>
<text x="278.6" y="512.4" text-anchor="middle" style="font-family:'Liberation Serif',serif;font-weight:bold;font-style:italic;stroke:#111;stroke-width:0.4px;font-size:11.9px" fill="#111">Time (s)</text>
<text transform="translate(42.4,379.8) rotate(-90)" x="0" y="0" text-anchor="middle" style="font-family:'Liberation Sans',sans-serif;font-weight:bold;font-style:italic;font-size:10px;stroke:#111;stroke-width:0.3px" fill="#111" textLength="48" lengthAdjust="spacingAndGlyphs">SOC_t (%)</text>
<polyline points="73.8,379.9 78.2,398.2 89.7,425.5" fill="none" stroke="#ff8000" stroke-width="1.9" stroke-linejoin="round" stroke-linecap="round"/>
<polyline points="73.8,434.4 78.8,426.2 80.8,427.8 89.7,425.6" fill="none" stroke="#ff1010" stroke-width="1.9" stroke-linejoin="round" stroke-linecap="round"/>
<polyline points="73.8,460.6 77.2,461.2 78.4,458.8 89.7,425.6 475,331.8" fill="none" stroke="#1414e6" stroke-width="1.85" stroke-linejoin="round" stroke-linecap="round"/>
<rect x="18.3" y="444.3" width="10.8" height="9.4" fill="#ff0505" stroke="#c00000" stroke-width="0.9"/>
<rect x="18.3" y="455.9" width="10.8" height="9.4" fill="#ff7a05" stroke="#c05000" stroke-width="0.9"/>
<rect x="18.3" y="467.5" width="10.8" height="9.4" fill="#0808f0" stroke="#000070" stroke-width="0.9"/>
<circle cx="478.2" cy="507" r="6.6" fill="#fafafa" stroke="#b8b8b8" stroke-width="1"/>
<path d="M475.23,508.19 L478.2,505.02 L481.17,508.19" fill="none" stroke="#a0a0a0" stroke-width="2.38"/>
<g transform="translate(-54.36,244.75) scale(1.209)">
<path d="M62.4,21.9 L65.2,19.5 L68,21.9" fill="none" stroke="#333333" stroke-width="1.5"/>
<path d="M77.3,22.9 H79.2 V16.8 H82.1 V22.9 H85.4" fill="none" stroke="#505050" stroke-width="1.15"/>
<path d="M91.4,19.1 H95.9 L93.65,21.6 Z" fill="#333333"/>
<line x1="102" y1="13.2" x2="102" y2="28.2" stroke="#a6a6a6" stroke-width="1"/>
<line x1="125.4" y1="13.2" x2="125.4" y2="28.2" stroke="#a6a6a6" stroke-width="1"/>
<line x1="164.5" y1="13.2" x2="164.5" y2="28.2" stroke="#a6a6a6" stroke-width="1"/>
<line x1="185.5" y1="13.2" x2="185.5" y2="28.2" stroke="#a6a6a6" stroke-width="1"/>
<line x1="286.4" y1="13.2" x2="286.4" y2="28.2" stroke="#a6a6a6" stroke-width="1"/>
<line x1="329.2" y1="13.2" x2="329.2" y2="28.2" stroke="#a6a6a6" stroke-width="1"/>
<line x1="388.6" y1="13.2" x2="388.6" y2="28.2" stroke="#a6a6a6" stroke-width="1"/>
<line x1="429.3" y1="13.2" x2="429.3" y2="28.2" stroke="#a6a6a6" stroke-width="1"/>
<path d="M109.3,18.9 C110,16.2 114,15.2 116.9,16.6" fill="none" stroke="#333333" stroke-width="1.4"/>
<path d="M118,14.7 L115.7,18.5 L120.6,18.6 Z" fill="#333333"/>
<path d="M120.4,21.4 C119.8,24.2 115.6,25.2 112.8,24.1" fill="none" stroke="#333333" stroke-width="1.4"/>
<path d="M111.4,25.9 L108.9,21.9 L113.7,22.6 Z" fill="#333333"/>
<rect x="128.4" y="12.6" width="16.8" height="14.6" fill="#cce8ff" stroke="#99d1ff" stroke-width="0.8"/>
<line x1="131.2" y1="20.1" x2="131.2" y2="24.8" stroke="#4a4a4a" stroke-width="1.3"/>
<line x1="133.6" y1="17.2" x2="133.6" y2="24.8" stroke="#4a4a4a" stroke-width="1.3"/>
<line x1="135.9" y1="16.1" x2="135.9" y2="24.8" stroke="#4a4a4a" stroke-width="1.3"/>
<line x1="138.2" y1="17.2" x2="138.2" y2="24.8" stroke="#4a4a4a" stroke-width="1.3"/>
<line x1="140.4" y1="18.9" x2="140.4" y2="24.8" stroke="#4a4a4a" stroke-width="1.3"/>
<line x1="130.4" y1="24.9" x2="141.4" y2="24.9" stroke="#404040" stroke-width="0.9"/>
<path d="M147.9,24.3 H149.7 V16.3 H151.7 V24.3 H158.9" fill="none" stroke="#454545" stroke-width="1.2"/>
<path d="M169.4,24.3 H170.9 V17.8 H172.9 V24.3 H180" fill="none" stroke="#b4b4b4" stroke-width="1.1"/>
<path d="M170,15.3 H179.6 M171.4,14.2 L169.9,15.3 L171.4,16.4 M178.2,14.2 L179.7,15.3 L178.2,16.4" fill="none" stroke="#b4b4b4" stroke-width="0.8"/>
<text x="194.6" y="24.2" style="font-family:'Liberation Sans',sans-serif;font-size:9.5px;stroke:#1a1a2a;stroke-width:0.18px" fill="#1a1a2a" textLength="72.8" lengthAdjust="spacingAndGlyphs">HostService (Platfo</text>
<rect x="274.6" y="13.2" width="8.7" height="13.6" fill="#e9e9e9"/>
<path d="M277.1,19.5 H281 L279.05,21.7 Z" fill="#333333"/>
<path d="M293.4,24.4 H295.2 V16 H297.7 V24.4 H304.3" fill="none" stroke="#b4b4b4" stroke-width="1.2"/>
<path d="M300.2,20.3 V15.4 L302.3,18.3 L304.4,15.4 V20.3" fill="none" stroke="#b4b4b4" stroke-width="0.9"/>
<path d="M310.8,24.4 H312.3 V16 H314.8 V24.4 H321.3" fill="none" stroke="#484848" stroke-width="1.1"/>
<path d="M317.1,20.6 L319.3,15.3 L321.5,20.6 M318,18.9 H320.6" fill="none" stroke="#333333" stroke-width="1"/>
<path d="M336.4,24.4 H338.3 V15.7 H340.8 V24.4 H347.5" fill="none" stroke="#b4b4b4" stroke-width="1.2"/>
<path d="M343.2,17.8 H346 M344.6,16.4 V19.2" stroke="#b4b4b4" stroke-width="0.9"/>
<path d="M353.3,24.4 H355.2 V15.7 H357.7 V24.4 H364.4" fill="none" stroke="#b4b4b4" stroke-width="1.2"/>
<path d="M360.6,17.5 H363" stroke="#b4b4b4" stroke-width="0.9"/>
<path d="M371.2,20.6 H373.3 M374.6,20.6 H376.7 M378,20.6 H380.1" stroke="#5c6074" stroke-width="1.0"/>
<rect x="393.5" y="12.6" width="16.8" height="14.4" fill="#cce8ff" stroke="#99d1ff" stroke-width="0.8"/>
<path d="M396,21.8 C397,17 398.2,16.6 399.2,17.4 C400.6,18.6 402,22.6 404.2,22.5 C405.6,22.4 406.5,20.5 406.9,18.8" fill="none" stroke="#687078" stroke-width="1.05"/>
<path d="M412.1,22.5 C413.2,18 415,17.2 416.2,17.6 C417.8,18.4 419.4,22.6 421,22.5 C422.4,22.4 423.3,21 423.9,19.6" fill="none" stroke="#b4b4b4" stroke-width="1.1" stroke-dasharray="2,1.6"/>
<path d="M440.1,14.8 L442.1,16.35 L440.1,17.9 M443.5,14.8 L445.5,16.35 L443.5,17.9" fill="none" stroke="#5a5ab4" stroke-width="1.2"/>
</g>
<text x="250.2" y="534.4" text-anchor="middle" style="font-family:'Liberation Serif',serif;font-size:17px;stroke:#111;stroke-width:0.15px" fill="#111">(<tspan style="stroke-width:0.55px">b</tspan>)</text>
</svg>
</body></html>
